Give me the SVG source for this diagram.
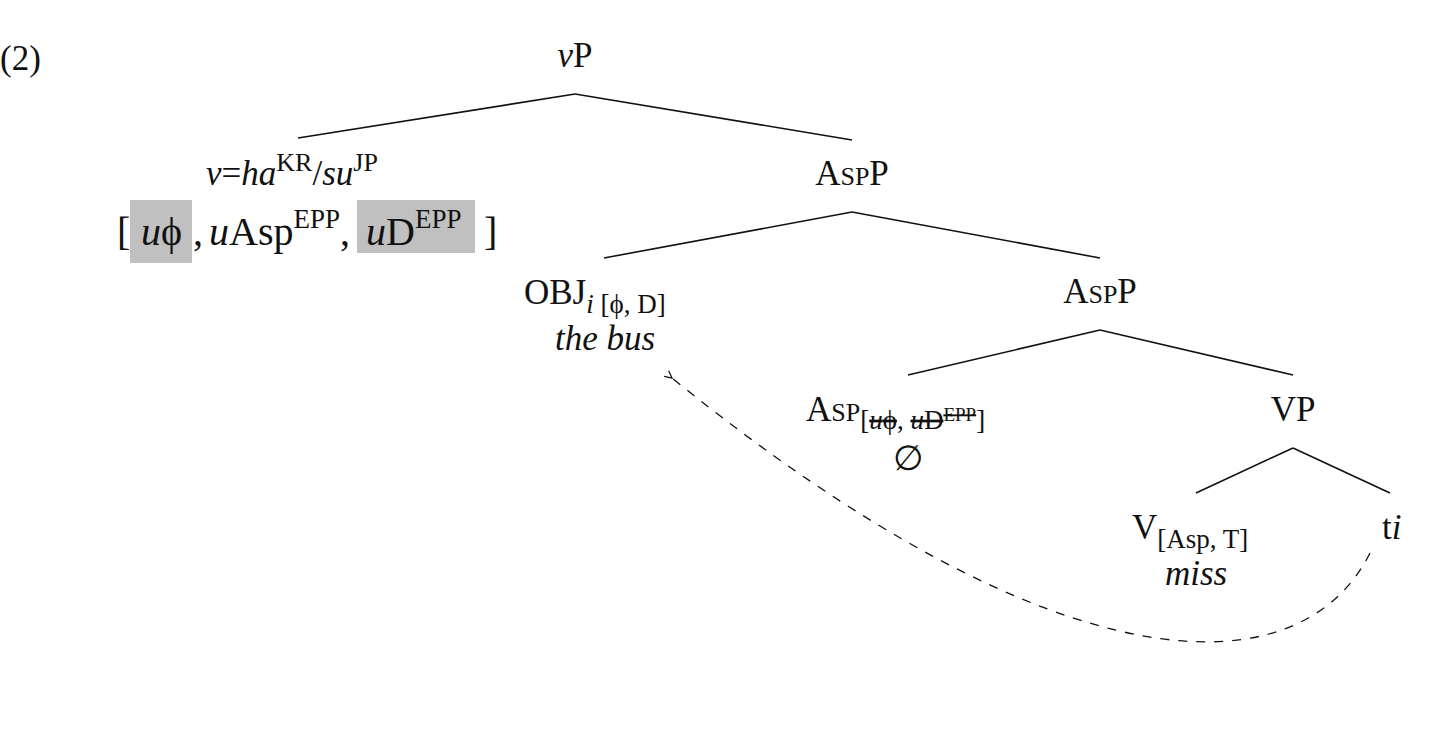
<svg xmlns="http://www.w3.org/2000/svg" width="1434" height="750" viewBox="0 0 1434 750">
<style>
text{font-family:"Liberation Serif","DejaVu Serif",serif;font-size:35px;fill:#111}
.it{font-style:italic}
.sub{font-size:27px}
.sup{font-size:26px}
.sc{font-size:26px}
.big{font-size:40px}
.bsup{font-size:27px}
.br line{stroke:#111;stroke-width:1.6}
.st{text-decoration:line-through}
</style>
<defs>
<marker id="arr" viewBox="0 0 10 10" refX="1" refY="5" markerWidth="9" markerHeight="9" markerUnits="userSpaceOnUse" orient="auto">
<path d="M9,1 L1,5 L9,9" fill="none" stroke="#111" stroke-width="1.4"/>
</marker>
</defs>
<rect width="1434" height="750" fill="#fff"/>
<text x="0" y="70" font-size="39">(2)</text>
<g id="connectors" class="br">
<line x1="575" y1="94" x2="298" y2="138"/>
<line x1="575" y1="94" x2="852" y2="140"/>
<line x1="852" y1="212" x2="604" y2="258"/>
<line x1="852" y1="212" x2="1100" y2="258"/>
<line x1="1100" y1="330" x2="908" y2="375"/>
<line x1="1100" y1="330" x2="1293" y2="375"/>
<line x1="1293" y1="448" x2="1196" y2="493"/>
<line x1="1293" y1="448" x2="1390" y2="493"/>
<path d="M1370,553 C1300,692 1060,692 672,378" fill="none" stroke="#111" stroke-width="1.3" stroke-dasharray="9,9" marker-end="url(#arr)"/>
</g>
<g id="vP"><text x="575" y="67" text-anchor="middle"><tspan class="it">v</tspan>P</text></g>
<g id="v">
<rect x="130" y="200" width="62" height="63" fill="#c0c0c0"/>
<rect x="357" y="200" width="118" height="53" fill="#c0c0c0"/>
<text x="206" y="185"><tspan class="it">v</tspan>=<tspan class="it">ha</tspan><tspan class="sup" dy="-14">KR</tspan><tspan dy="14">/</tspan><tspan class="it">su</tspan><tspan class="sup" dy="-14">JP</tspan></text>
<text x="117" y="245" class="big">[</text>
<text x="141" y="245" class="big"><tspan class="it">u</tspan>ϕ</text>
<text x="193" y="245" class="big">,</text>
<text x="209" y="245" class="big"><tspan class="it">u</tspan>Asp<tspan class="bsup" dy="-17">EPP</tspan><tspan dy="17">,</tspan></text>
<text x="366" y="245" class="big"><tspan class="it">u</tspan>D<tspan class="bsup" dy="-17">EPP</tspan></text>
<text x="484" y="245" class="big">]</text>
</g>
<g id="AspP1"><text x="852" y="185" text-anchor="middle">A<tspan class="sc">SP</tspan>P</text></g>
<g id="OBJ">
<text x="524" y="304">OBJ<tspan class="sub it" dy="9">i</tspan><tspan class="sub"> [ϕ, D]</tspan></text>
<text x="605" y="350" text-anchor="middle" class="it">the bus</text>
</g>
<g id="AspP2"><text x="1100" y="303" text-anchor="middle">A<tspan class="sc">SP</tspan>P</text></g>
<g id="Asp">
<text x="806" y="421">A<tspan class="sc">SP</tspan><tspan class="sub" dy="8">[<tspan class="st it">u</tspan><tspan class="st">ϕ</tspan>, <tspan class="st it">u</tspan><tspan class="st">D</tspan><tspan class="st" font-size="19" dy="-8">EPP</tspan><tspan dy="8">]</tspan></tspan></text>
<text x="908" y="470" text-anchor="middle">∅</text>
</g>
<g id="VP"><text x="1293" y="421" text-anchor="middle">VP</text></g>
<g id="V">
<text x="1132" y="539">V<tspan class="sub" dy="9">[Asp, T]</tspan></text>
<text x="1196" y="585" text-anchor="middle" class="it">miss</text>
</g>
<g id="t"><text x="1382" y="539">t<tspan class="it">i</tspan></text></g>
</svg>
